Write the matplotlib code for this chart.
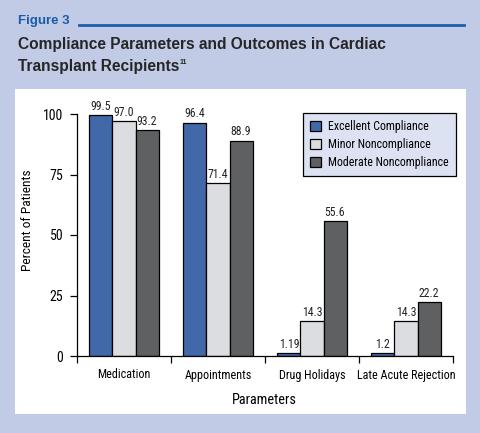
import matplotlib
matplotlib.use("Agg")
import matplotlib.pyplot as plt
from matplotlib.patches import Rectangle

# data
categories = ["Medication", "Appointments", "Drug Holidays", "Late Acute Rejection"]
series_names = ["Excellent Compliance", "Minor Noncompliance", "Moderate Noncompliance"]
excellent = [99.5, 96.4, 1.19, 1.2]
minor = [97.0, 71.4, 14.3, 14.3]
moderate = [93.2, 88.9, 55.6, 22.2]
excellent_lbl = ["99.5", "96.4", "1.19", "1.2"]
minor_lbl = ["97.0", "71.4", "14.3", "14.3"]
moderate_lbl = ["93.2", "88.9", "55.6", "22.2"]
yticks = [0, 25, 50, 75, 100]

plt.rcParams["font.family"] = ["Roboto Condensed", "DejaVu Sans"]

bg = "#c2cbe6"
colors = ["#4169aa", "#dcdde0", "#5f6062"]

fig = plt.figure(figsize=(4.8, 4.33), dpi=100, facecolor=bg)
W, H = 480, 433

# white panel
fig.patches.append(Rectangle((15 / W, 1 - 414 / H), 451 / W, 325 / H,
                             transform=fig.transFigure, facecolor="white",
                             edgecolor="none", zorder=-10))

# header
fig.text(18 / W, 1 - 21 / H, "Figure 3", color="#1a5ca8", fontsize=9.5,
         fontweight="bold", family="Liberation Sans", va="center")
fig.add_artist(plt.Line2D([79 / W, 464 / W], [1 - 25 / H, 1 - 25 / H],
                          transform=fig.transFigure, color="#1a5ca8", lw=2))
fig.text(18 / W, 1 - 45 / H, "Compliance Parameters and Outcomes in Cardiac",
         color="#262626", fontsize=11.2, fontweight="bold", family="Liberation Sans",
         va="center")
t2 = fig.text(18 / W, 1 - 66 / H, "Transplant Recipients", color="#262626",
              fontsize=11.2, fontweight="bold", family="Liberation Sans", va="center")
fig.canvas.draw()
bb = t2.get_window_extent()
fig.text(bb.x1 / W + 0.5 / W, 1 - 62 / H, "11", color="#262626", fontsize=5,
         fontweight="bold", family="Liberation Sans", va="center")

ax = fig.add_axes([77 / W, 1 - 356 / H, 376 / W, 242 / H])
ax.set_facecolor("none")
w = 0.245
x = range(len(categories))
groups = [excellent, minor, moderate]
labels = [excellent_lbl, minor_lbl, moderate_lbl]
for i, (vals, lbls, c, nm) in enumerate(zip(groups, labels, colors, series_names)):
    pos = [xi + (i - 1) * w for xi in x]
    ax.bar(pos, vals, width=w, color=c, edgecolor="black", linewidth=0.9,
           label=nm, zorder=2)
    for p, v, s in zip(pos, vals, lbls):
        ax.text(p, v + 1.0, s, ha="center", va="bottom", fontsize=8.5, color="#222222")

ax.set_xlim(-0.5, 3.5)
ax.set_ylim(0, 100)
ax.set_yticks(yticks)
ax.tick_params(axis="y", direction="out", length=5, width=0.9, labelsize=10, pad=5)
ax.set_xticks([-0.5, 0.5, 1.5, 2.5, 3.5])
ax.set_xticklabels([])
ax.set_xticks(list(x), minor=True)
ax.set_xticklabels(categories, minor=True, fontsize=8.7)
ax.tick_params(axis="x", which="major", direction="out", length=5, width=0.9)
ax.tick_params(axis="x", which="minor", length=0, pad=9)
for s in ["top", "right"]:
    ax.spines[s].set_visible(False)
ax.spines["left"].set_linewidth(0.9)
ax.spines["bottom"].set_linewidth(0.9)
ax.set_ylabel("Percent of Patients", fontsize=9.6)
ax.yaxis.set_label_coords(-(77 - 34) / 376, (356 - 220) / 242)
ax.set_xlabel("Parameters", fontsize=10.3)
ax.xaxis.set_label_coords((264.5 - 77) / 376, -(393 - 356) / 242)

leg = ax.legend(loc="upper right", bbox_to_anchor=(456 / W, 1 - 113 / H),
                bbox_transform=fig.transFigure, fontsize=8.6, frameon=True,
                fancybox=False, handlelength=0.9, handleheight=0.9,
                handletextpad=0.6, borderpad=0.6, labelspacing=0.42,
                borderaxespad=0)
leg.get_frame().set_facecolor("#dde2f2")
leg.get_frame().set_edgecolor("black")
leg.get_frame().set_linewidth(0.9)
leg.get_frame().set_alpha(1)

fig.savefig("out.png", dpi=100, facecolor=bg)
